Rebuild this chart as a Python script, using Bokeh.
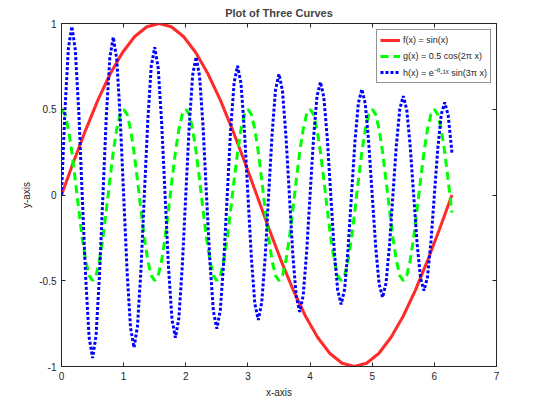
from bokeh.plotting import figure
from bokeh.models import LinearAxis, FixedTicker, Range1d, Legend, LegendItem
from bokeh.embed import file_html
from bokeh.resources import INLINE

# f(x) = sin(x), read at steps of pi/16
x_f = [0, 0.196, 0.393, 0.589, 0.785, 0.982, 1.178, 1.374, 1.571, 1.767, 1.963,
       2.160, 2.356, 2.553, 2.749, 2.945, 3.142, 3.338, 3.534, 3.731, 3.927,
       4.123, 4.320, 4.516, 4.712, 4.909, 5.105, 5.301, 5.498, 5.694, 5.890,
       6.087, 6.283]
y_f = [0, 0.195, 0.383, 0.556, 0.707, 0.831, 0.924, 0.981, 1.0, 0.981, 0.924,
       0.831, 0.707, 0.556, 0.383, 0.195, 0, -0.195, -0.383, -0.556, -0.707,
       -0.831, -0.924, -0.981, -1.0, -0.981, -0.924, -0.831, -0.707, -0.556,
       -0.383, -0.195, 0]

# g(x) and h(x) share the same x samples (steps of 1/18)
x_gh = [0, 0.056, 0.111, 0.167, 0.222, 0.278, 0.333, 0.389, 0.444, 0.5, 0.556, 0.611, 0.667, 0.722, 0.778, 0.833, 0.889, 0.944,
        1.0, 1.056, 1.111, 1.167, 1.222, 1.278, 1.333, 1.389, 1.444, 1.5, 1.556, 1.611, 1.667, 1.722, 1.778, 1.833, 1.889, 1.944,
        2.0, 2.056, 2.111, 2.167, 2.222, 2.278, 2.333, 2.389, 2.444, 2.5, 2.556, 2.611, 2.667, 2.722, 2.778, 2.833, 2.889, 2.944,
        3.0, 3.056, 3.111, 3.167, 3.222, 3.278, 3.333, 3.389, 3.444, 3.5, 3.556, 3.611, 3.667, 3.722, 3.778, 3.833, 3.889, 3.944,
        4.0, 4.056, 4.111, 4.167, 4.222, 4.278, 4.333, 4.389, 4.444, 4.5, 4.556, 4.611, 4.667, 4.722, 4.778, 4.833, 4.889, 4.944,
        5.0, 5.056, 5.111, 5.167, 5.222, 5.278, 5.333, 5.389, 5.444, 5.5, 5.556, 5.611, 5.667, 5.722, 5.778, 5.833, 5.889, 5.944,
        6.0, 6.056, 6.111, 6.167, 6.222, 6.278, 6.283]

# g(x) = 0.5 cos(2 pi x)
y_g = [0.5, 0.470, 0.383, 0.25, 0.087, -0.087, -0.25, -0.383, -0.470, -0.5, -0.470, -0.383, -0.25, -0.087, 0.087, 0.25, 0.383, 0.470,
       0.5, 0.470, 0.383, 0.25, 0.087, -0.087, -0.25, -0.383, -0.470, -0.5, -0.470, -0.383, -0.25, -0.087, 0.087, 0.25, 0.383, 0.470,
       0.5, 0.470, 0.383, 0.25, 0.087, -0.087, -0.25, -0.383, -0.470, -0.5, -0.470, -0.383, -0.25, -0.087, 0.087, 0.25, 0.383, 0.470,
       0.5, 0.470, 0.383, 0.25, 0.087, -0.087, -0.25, -0.383, -0.470, -0.5, -0.470, -0.383, -0.25, -0.087, 0.087, 0.25, 0.383, 0.470,
       0.5, 0.470, 0.383, 0.25, 0.087, -0.087, -0.25, -0.383, -0.470, -0.5, -0.470, -0.383, -0.25, -0.087, 0.087, 0.25, 0.383, 0.470,
       0.5, 0.470, 0.383, 0.25, 0.087, -0.087, -0.25, -0.383, -0.470, -0.5, -0.470, -0.383, -0.25, -0.087, 0.087, 0.25, 0.383, 0.470,
       0.5, 0.470, 0.383, 0.25, 0.087, -0.087, -0.103]

# h(x) = exp(-0.1x) sin(3 pi x)
y_h = [0, 0.497, 0.856, 0.983, 0.847, 0.486, 0, -0.481, -0.828, -0.951, -0.819, -0.470, 0, 0.465, 0.801, 0.920, 0.792, 0.455,
       0, -0.450, -0.775, -0.890, -0.766, -0.440, 0, 0.435, 0.750, 0.861, 0.741, 0.426, 0, -0.421, -0.725, -0.832, -0.717, -0.412,
       0, 0.407, 0.701, 0.805, 0.693, 0.398, 0, -0.394, -0.678, -0.779, -0.671, -0.385, 0, 0.381, 0.656, 0.753, 0.649, 0.372,
       0, -0.368, -0.634, -0.729, -0.627, -0.360, 0, 0.356, 0.614, 0.705, 0.607, 0.348, 0, -0.345, -0.594, -0.682, -0.587, -0.337,
       0, 0.333, 0.574, 0.659, 0.568, 0.326, 0, -0.322, -0.555, -0.638, -0.549, -0.315, 0, 0.312, 0.537, 0.617, 0.531, 0.305,
       0, -0.302, -0.519, -0.597, -0.514, -0.295, 0, 0.292, 0.502, 0.577, 0.497, 0.285, 0, -0.282, -0.486, -0.558, -0.481, -0.276,
       0, 0.273, 0.470, 0.540, 0.465, 0.267, 0.243]

x_ticks = [0, 1, 2, 3, 4, 5, 6, 7]
y_ticks = [-1, -0.5, 0, 0.5, 1]
y_tick_labels = {-1: "-1", -0.5: "-0.5", 0: "0", 0.5: "0.5", 1: "1"}

FONT = "Liberation Sans"
AX = "#262626"

p = figure(frame_width=435, frame_height=343, output_backend="svg", toolbar_location=None,
           x_range=Range1d(0, 7), y_range=Range1d(-1, 1),
           min_border_left=61, min_border_right=30, min_border_top=23, min_border_bottom=34)
p.grid.visible = False
p.outline_line_color = AX
p.outline_line_width = 1
p.background_fill_color = "white"
p.border_fill_color = "white"

p.title.text = "Plot of Three Curves"
p.title.align = "center"
p.title.text_font = FONT
p.title.text_font_size = "11px"
p.title.text_font_style = "bold"
p.title.standoff = 9
p.title.offset = 0

for ax in (p.xaxis[0], p.yaxis[0]):
    ax.major_label_text_font = FONT
    ax.major_label_text_font_size = "10px"
    ax.major_label_text_color = AX
    ax.axis_label_text_font = FONT
    ax.axis_label_text_font_size = "10px"
    ax.axis_label_text_font_style = "normal"
    ax.axis_label_text_color = AX
    ax.axis_line_color = AX
    ax.major_tick_line_color = AX
    ax.major_tick_in = 4
    ax.major_tick_out = 0
    ax.minor_tick_line_color = None

p.xaxis[0].ticker = FixedTicker(ticks=x_ticks)
p.yaxis[0].ticker = FixedTicker(ticks=y_ticks)
p.yaxis[0].major_label_overrides = y_tick_labels
p.xaxis[0].axis_label = "x-axis"
p.yaxis[0].axis_label = "y-axis"
p.xaxis[0].major_label_standoff = 5
p.xaxis[0].axis_label_standoff = 4
p.yaxis[0].major_label_standoff = 5
p.yaxis[0].axis_label_standoff = 4

# mirrored ticks on top and right, no labels
top = LinearAxis(ticker=FixedTicker(ticks=x_ticks), major_label_text_color=None,
                 major_tick_in=4, major_tick_out=0, minor_tick_line_color=None,
                 axis_line_color=None, major_tick_line_color=AX, major_label_standoff=0)
right = LinearAxis(ticker=FixedTicker(ticks=y_ticks), major_label_text_color=None,
                   major_tick_in=4, major_tick_out=0, minor_tick_line_color=None,
                   axis_line_color=None, major_tick_line_color=AX, major_label_standoff=0)
p.add_layout(top, "above")
p.add_layout(right, "right")

r_f = p.line(x_f, y_f, line_color="#ff2a2a", line_width=3)
r_g = p.line(x_gh, y_g, line_color="#00ff00", line_width=3, line_dash="8 5")
r_h = p.line(x_gh, y_h, line_color="#0000ff", line_width=3, line_dash="3 2")

legend = Legend(items=[
    LegendItem(label="f(x) = sin(x)", renderers=[r_f]),
    LegendItem(label="g(x) = 0.5 cos(2\u03c0 x)", renderers=[r_g]),
    LegendItem(label="h(x) = e\u207b\u2070\u00b7\u00b9\u02e3 sin(3\u03c0 x)", renderers=[r_h]),
], location=(315, 283))
legend.label_text_font = FONT
legend.label_text_font_size = "9px"
legend.label_text_color = AX
legend.glyph_width = 20
legend.glyph_height = 14
legend.label_height = 14
legend.spacing = 2
legend.padding = 3
legend.margin = 0
legend.label_standoff = 3
legend.border_line_color = AX
legend.border_line_width = 1
legend.background_fill_alpha = 1
p.add_layout(legend)

open("out.html", "w").write(file_html(p, INLINE))
